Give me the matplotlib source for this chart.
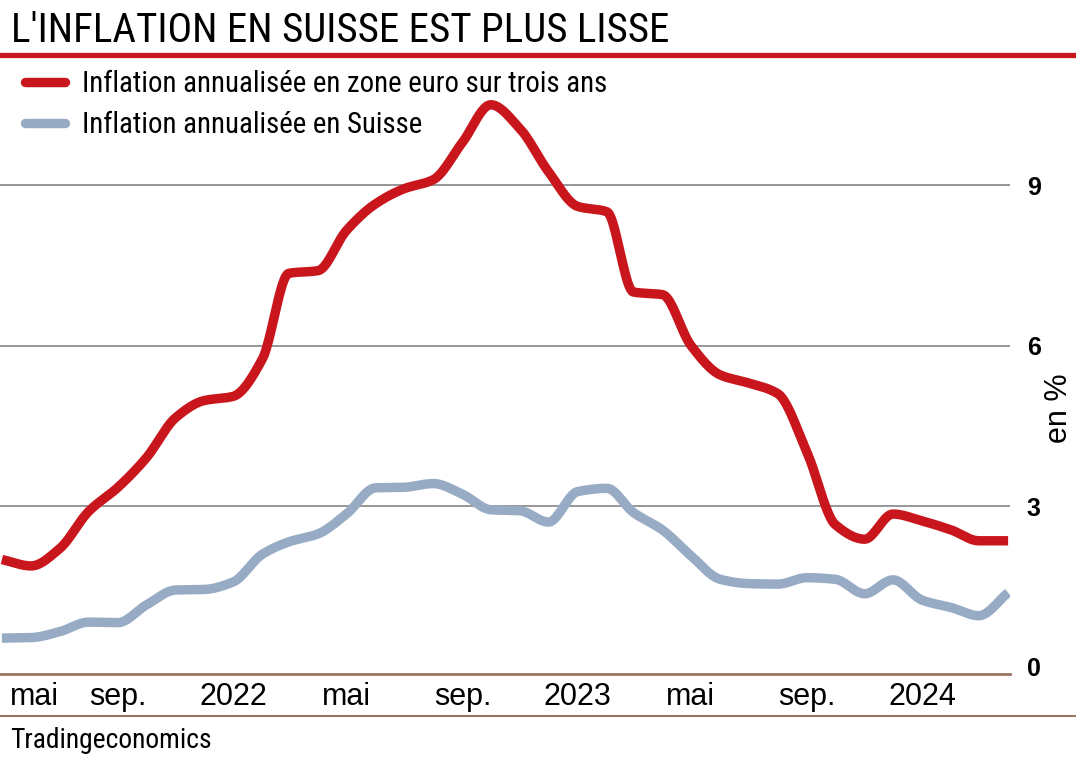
import numpy as np
import pandas as pd
import matplotlib
matplotlib.use("Agg")
import matplotlib.pyplot as plt
import matplotlib.dates as mdates
import matplotlib.transforms as mtransforms
from matplotlib.lines import Line2D
from matplotlib import font_manager
from matplotlib.font_manager import FontProperties

# monthly values, May 2021 .. Apr 2024
months = pd.date_range("2021-05-01", periods=36, freq="MS")
euro_3y = [2.0, 1.88, 2.2, 2.9, 3.35, 3.9, 4.65, 4.97, 5.05, 5.75, 7.35, 7.4,
           8.15, 8.65, 8.93, 9.1, 9.8, 10.5, 10.05, 9.25, 8.6, 8.5, 7.0, 6.95,
           6.0, 5.45, 5.3, 5.1, 4.0, 2.65, 2.38, 2.85, 2.72, 2.55, 2.35, 2.35]
swiss = [0.53, 0.54, 0.65, 0.83, 0.82, 1.15, 1.43, 1.44, 1.58, 2.1, 2.33, 2.48,
         2.85, 3.34, 3.35, 3.42, 3.22, 2.93, 2.91, 2.7, 3.27, 3.33, 2.88, 2.55,
         2.07, 1.63, 1.55, 1.54, 1.66, 1.63, 1.36, 1.62, 1.24, 1.1, 0.95, 1.38]

tick_dates = ["2021-05-01", "2021-09-01", "2022-01-01", "2022-05-01", "2022-09-01",
              "2023-01-01", "2023-05-01", "2023-09-01", "2024-01-01"]
tick_labels = ["mai", "sep.", "2022", "mai", "sep.", "2023", "mai", "sep.", "2024"]
y_ticks = [0, 3, 6, 9]

title = "L'INFLATION EN SUISSE EST PLUS LISSE"
label_euro = "Inflation annualisée en zone euro sur trois ans"
label_swiss = "Inflation annualisée en Suisse"
source = "Tradingeconomics"

RED = "#c9161d"
BLUE = "#98abc4"
BROWN = "#9a7462"
GRID = "#8f8f8f"
REGULAR = "Liberation Sans"


def narrow_font():
    # a condensed face is closest to the original; fall back to Roboto
    fonts = [f for f in font_manager.fontManager.ttflist
             if f.style == "normal" and f.weight in (400, "normal", "regular")]
    for want in ["Liberation Sans Narrow", "Roboto Condensed", "Open Sans Condensed"]:
        for f in fonts:
            if f.name == want:
                return FontProperties(fname=f.fname)
    for f in fonts:
        if f.name in ("Noto Sans", "Open Sans", "Roboto") and f.stretch == "condensed":
            return FontProperties(fname=f.fname)
    return FontProperties(family="Roboto")


def pchip(x, y, xs):
    # monotone cubic (Fritsch-Carlson) so the curve stays smooth without overshoot
    x = np.asarray(x, float)
    y = np.asarray(y, float)
    h = np.diff(x)
    d = np.diff(y) / h
    m = np.zeros_like(y)
    for k in range(1, len(y) - 1):
        if d[k - 1] * d[k] > 0:
            w1 = 2 * h[k] + h[k - 1]
            w2 = h[k] + 2 * h[k - 1]
            m[k] = (w1 + w2) / (w1 / d[k - 1] + w2 / d[k])
    m[0] = d[0]
    m[-1] = d[-1]
    idx = np.clip(np.searchsorted(x, xs) - 1, 0, len(h) - 1)
    t = (xs - x[idx]) / h[idx]
    h00 = 2 * t**3 - 3 * t**2 + 1
    h10 = t**3 - 2 * t**2 + t
    h01 = -2 * t**3 + 3 * t**2
    h11 = t**3 - t**2
    return h00 * y[idx] + h10 * h[idx] * m[idx] + h01 * y[idx + 1] + h11 * h[idx] * m[idx + 1]


W, H = 1076, 757
fig = plt.figure(figsize=(W / 100, H / 100), dpi=100)
renderer = fig.canvas.get_renderer()
NARROW = narrow_font()


def fit_size(text, width_px, fp):
    # font size that makes `text` span width_px
    t = fig.text(0, 0, text, fontproperties=fp, fontsize=20)
    w = t.get_window_extent(renderer).width
    t.remove()
    return 20 * width_px / w


ax = fig.add_axes([0, (H - 674) / H, 1010 / W, (674 - 70) / H])

xn = mdates.date2num(months)
xs = np.linspace(xn[0], xn[-1], 800)
ax.plot(xs, pchip(xn, swiss, xs), color=BLUE, lw=6.8, solid_capstyle="butt", zorder=3)
ax.plot(xs, pchip(xn, euro_3y, xs), color=RED, lw=6.8, solid_capstyle="butt", zorder=4)

for v in y_ticks[1:]:
    ax.axhline(v, color=GRID, lw=1.3, zorder=1)

ax.set_xlim(mdates.date2num(pd.Timestamp("2021-04-29")), mdates.date2num(pd.Timestamp("2024-04-03")))
ax.set_ylim(-0.14, 11.15)

for s in ["top", "left", "right"]:
    ax.spines[s].set_visible(False)
ax.spines["bottom"].set_color(BROWN)
ax.spines["bottom"].set_linewidth(2)

ax.yaxis.tick_right()
ax.set_yticks(y_ticks)
ax.set_yticklabels([str(v) for v in y_ticks], fontsize=18, fontweight="bold", family=REGULAR)
ax.tick_params(axis="y", length=0, pad=12)

ax.set_xticks(mdates.date2num(pd.to_datetime(tick_dates)))
ax.set_xticklabels(tick_labels, fontsize=22, family=REGULAR)
ax.tick_params(axis="x", length=0, pad=6)
first = ax.get_xticklabels()[0]
first.set_ha("left")
first.set_transform(first.get_transform() + mtransforms.ScaledTranslation(0.08, 0, fig.dpi_scale_trans))

fig.text(1059 / W, 1 - 408 / H, "en %", rotation=90, ha="center", va="center",
         fontsize=22, family=REGULAR)

# title + red rule
fig.text(11 / W, 1 - 30 / H, title, ha="left", va="center",
         fontproperties=NARROW, fontsize=fit_size(title, 659, NARROW))
fig.add_artist(Line2D([0, 1], [1 - 54.5 / H] * 2, color=RED, lw=3.8))

leg_size = fit_size(label_euro, 521, NARROW)
leg_px = leg_size * 100 / 72
leg_fp = NARROW.copy()
leg_fp.set_size(leg_size)
handles = [Line2D([], [], color=RED, lw=6.8, solid_capstyle="round"),
           Line2D([], [], color=BLUE, lw=6.8, solid_capstyle="round")]
fig.legend(handles, [label_euro, label_swiss], loc="upper left",
           bbox_to_anchor=(25 / W, 1 - 70 / H), frameon=False, prop=leg_fp,
           handlelength=40 / leg_px, handletextpad=0.6,
           labelspacing=47 / leg_px - 1.2, borderpad=0, borderaxespad=0)

# source line
fig.add_artist(Line2D([0, 1], [1 - 715.5 / H] * 2, color=BROWN, lw=1.5))
fig.text(10 / W, 1 - 741 / H, source, ha="left", va="center",
         fontproperties=NARROW, fontsize=fit_size(source, 202, NARROW))

fig.savefig("out.png", dpi=100)
